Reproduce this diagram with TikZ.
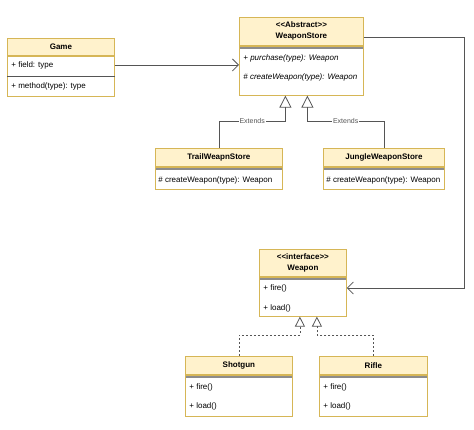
\documentclass[tikz,border=0pt]{standalone}
\usepackage{fontspec}
\setmainfont{Liberation Sans}
\usetikzlibrary{arrows.meta}

\definecolor{umlfill}{HTML}{FFF2CC}
\definecolor{umlline}{HTML}{D6B656}
\definecolor{edge}{HTML}{555555}
\definecolor{sepgray}{HTML}{8C8C8C}

\newcommand\stereo[1]{<\kern0pt<#1>\kern0pt>}

\begin{document}
\begin{tikzpicture}[
    x=1pt, y=-1pt,
    line width=0.8pt,
    font=\fontsize{8}{11}\selectfont,
    hd/.style ={
        draw=umlline,
        fill=umlfill,
        anchor=north west,
        align=center,
        inner sep=0pt,
        font=\fontsize{8}{11}\selectfont\bfseries
    },
    bd/.style ={draw=umlline, fill=white, anchor=north, inner sep=0pt},
    mb/.style ={anchor=west, inner sep=0pt},
    sep/.style ={draw=sepgray, line width=1.8pt},
    assoc/.style ={draw=edge, -{Straight Barb[length=6pt,width=12pt]}},
    ext/.style ={draw=edge, -{Triangle[open,length=12pt,width=12pt]}},
    impl/.style ={draw=edge, dash pattern=on 2pt off 2pt, -{Triangle[open,length=10pt,width=10pt]}},
    lbl/.style ={fill=white, text=edge, inner sep=1pt, font=\fontsize{7}{8}\selectfont}
    ]
    \useasboundingbox (0,0) rectangle (474,430);

    \foreach \cls/\x/\y/\w/\hh/\h/\name in {
        game/7/38/107/17/40/Game,
        store/239/17/124/28/49/{\stereo{Abstract}\\WeaponStore},
        trail/155/148/127/18/22/TrailWeapnStore,
        jungle/323/148/121/18/22/JungleWeaponStore,
        weapon/259/249/87/27/39/{\stereo{interface}\\Weapon},
        shotgun/185/356/107/18/41/Shotgun,
        rifle/319/356/108/18/41/Rifle}
    {
        \node[hd, minimum width=\w, minimum height=\hh] (\cls) at (\x,\y) {\name};
        \node[bd, minimum width=\w, minimum height=\h] (\cls-b) at (\cls.south) {};
    }

    \foreach \cls in {store, trail, jungle, weapon, shotgun, rifle}
        \draw[sep] ([xshift=1pt,yshift=-2pt]\cls.south west) -- ([xshift=-1pt,yshift=-2pt]\cls.south east);
    \draw[draw=edge] (game-b.west) -- (game-b.east);

    \foreach \m/\x/\y/\txt in {
        gf/11/65/{+ field: type},
        gm/11/86/{+ method(type): type},
        sp/243/58/{\textit{+ purchase(type): Weapon}},
        sc/243/77/{\textit{\# createWeapon(type): Weapon}},
        tc/158/180/{\# createWeapon(type): Weapon},
        jc/326/180/{\# createWeapon(type): Weapon},
        wf/263/288/{+ fire()},
        wl/263/308/{+ load()},
        sf/189/387/{+ fire()},
        sl/189/406/{+ load()},
        rf/323/387/{+ fire()},
        rl/323/406/{+ load()}}
        \node[mb] (\m) at (\x,\y) {\txt};

    \draw[assoc] (game-b.east |- gf) -- (store-b.west |- gf);
    \draw[assoc] ([yshift=-6pt]store.east) -- ++(101,0) |- (weapon-b.east |- wf);

    \draw[ext] (trail.north) -- ++(0,-27) -| ([xshift=-16pt]store-b.south) node[lbl, pos=0.25] {Extends};
    \draw[ext] (jungle.north) -- ++(0,-27) -| ([xshift=6pt]store-b.south) node[lbl, pos=0.25] {Extends};

    \draw[impl] (shotgun.north) -- ++(0,-21) -| ([xshift=-3pt]weapon-b.south);
    \draw[impl] (rifle.north) -- ++(0,-21) -| ([xshift=14pt]weapon-b.south);

\end{tikzpicture}
\end{document}
